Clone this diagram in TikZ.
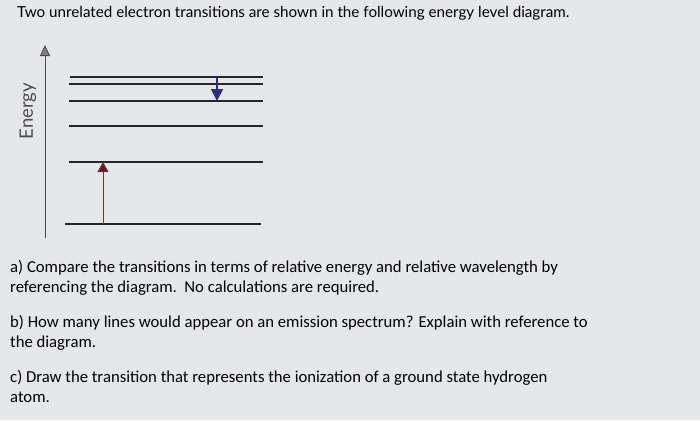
\documentclass[tikz,border=0pt]{standalone}
\usepackage{fontspec}
\setmainfont{Carlito}
\newfontfamily\titlefont{Lato}
\usetikzlibrary{positioning,arrows.meta}
\tikzset{>=latex}
\definecolor{paper}{RGB}{229,231,234}
\definecolor{upred}{RGB}{105,20,45}
\definecolor{downblue}{RGB}{40,45,135}
\tikzset{
  level/.style={line width=1.2pt, black!85},
  question/.style={anchor=north west, align=left, inner sep=0pt,
    font=\fontsize{16.7}{20.5}\selectfont},
}

\begin{document}
\begin{tikzpicture}[x=1pt, y=-1pt]
  \useasboundingbox[fill=paper] (0,0) rectangle (700,420);

  % START: Title -----------------------------------
  \node[anchor=base west, inner sep=0pt, font=\titlefont\fontsize{15.2}{17}\selectfont]
    (title) at (17,18) {Two unrelated electron transitions are shown in the following energy level diagram.};
  % END: Title -------------------------------------

  % START: Axis ------------------------------------
  \coordinate (axis_bot) at (45,238);
  \coordinate (axis_top) at (45,45);
  \node[rotate=90, inner sep=0pt, font=\titlefont\fontsize{18.5}{20}\selectfont,
    text=black!70] (energy) at (28,111) {Energy};
  % END: Axis --------------------------------------

  % START: Levels ----------------------------------
  % Ground
  \coordinate (l1) at (65,224);
  \coordinate[right=196pt of l1] (l1_196);
  \coordinate[right=38pt of l1] (l1_38);
  % Level 2
  \coordinate (l2) at (69,162);
  \coordinate[right=194pt of l2] (l2_194);
  \coordinate[right=34pt of l2] (l2_34);
  % Level 3
  \coordinate (l3) at (69,126);
  \coordinate[right=194pt of l3] (l3_194);
  % Level 4
  \coordinate (l4) at (69,101);
  \coordinate[right=194pt of l4] (l4_194);
  \coordinate[right=148pt of l4] (l4_148);
  % Level 5
  \coordinate (l5) at (69,84);
  \coordinate[right=194pt of l5] (l5_194);
  % Level 6
  \coordinate (l6) at (70,77);
  \coordinate[right=193pt of l6] (l6_193);
  \coordinate[right=147pt of l6] (l6_147);
  % END: Levels ------------------------------------

  \draw[-{Triangle[width=10pt, length=11pt, fill=gray]}, line width=0.9pt, black!70]
    (axis_bot) -- (axis_top);
  \foreach \a/\b in {l1/l1_196, l2/l2_194, l3/l3_194, l4/l4_194, l5/l5_194, l6/l6_193}
    \draw[level] (\a) -- (\b);

  \draw[-{Triangle[width=11pt, length=10pt, fill=upred]}, line width=1pt, black!50!brown]
    (l1_38) -- (l2_34);
  \draw[-{Triangle[width=12pt, length=12pt]}, line width=1.8pt, downblue]
    (l6_147) -- (l4_148);

  % START: Questions -------------------------------
  \node[question] (qa) at (10,260)
    {a) Compare the transitions in terms of relative energy and relative wavelength by\\
     referencing the diagram.\ \ No calculations are required.};
  \node[question, below=19pt of qa.south west, anchor=north west] (qb)
    {b) How many lines would appear on an emission spectrum? Explain with reference to\\
     the diagram.};
  \node[question, below=19pt of qb.south west, anchor=north west] (qc)
    {c) Draw the transition that represents the ionization of a ground state hydrogen\\
     atom.};
  % END: Questions ---------------------------------
\end{tikzpicture}
\end{document}
